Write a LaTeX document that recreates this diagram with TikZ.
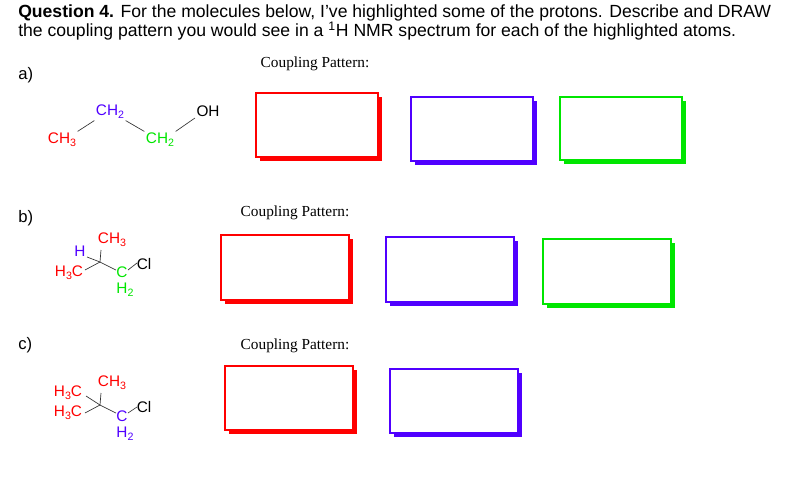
\documentclass[tikz,border=0pt]{standalone}
\usepackage{fontspec}
\setmainfont{Liberation Sans}
\newfontfamily\serif{Liberation Serif}
\definecolor{cred}{RGB}{255,0,0}
\definecolor{cblue}{RGB}{80,0,255}
\definecolor{cgreen}{RGB}{0,230,0}
\newcommand{\sbs}[1]{\raisebox{-0.4ex}{\footnotesize #1}}
\begin{document}
\begin{tikzpicture}[x=0.75pt,y=-0.75pt,
  mol/.style={font=\fontsize{11.5}{13}\selectfont,inner sep=1pt},
  bond/.style={draw=black!80,line width=0.5pt},
  lbl/.style={font=\fontsize{12.5}{14}\selectfont,anchor=west,inner sep=0},
  cp/.style={font=\serif\fontsize{11.5}{13}\selectfont,inner sep=0},
  ansbox/.style={draw=#1,fill=white,line width=0.8pt}]
\useasboundingbox (0,0) rectangle (801,493);
\node[lbl,anchor=north west,font=\fontsize{13.2}{14.5}\selectfont] (title) at (18,4) {\parbox[t]{590pt}{\textbf{Question 4.} For the molecules below, I've highlighted some of the protons. Describe and DRAW\\ the coupling pattern you would see in a \textsuperscript{1}H NMR spectrum for each of the highlighted atoms.}};
\node[lbl] (la) at (18,75) {a)};
\node[lbl] (lb) at (18,218) {b)};
\node[lbl] (lc) at (18,345) {c)};
\node[cp] (cpa) at (315,64) {Coupling Pattern:};
\node[cp] (cpb) at (295,213) {Coupling Pattern:};
\node[cp] (cpc) at (295,346) {Coupling Pattern:};
\newcommand{\abox}[5]{%
 \fill[#5] (#1+4,#2+4) rectangle (#3+4,#4+4);
 \draw[ansbox=#5] (#1,#2) rectangle (#3,#4);}
\abox{256}{93}{378}{157}{cred}
\abox{411}{97}{533}{161}{cblue}
\abox{560}{97}{682}{160}{cgreen}
\abox{221}{235}{349}{300}{cred}
\abox{386}{237}{514}{302}{cblue}
\abox{543}{239}{671}{304}{cgreen}
\abox{225}{366}{353}{430}{cred}
\abox{390}{369}{518}{433}{cblue}
% molecule a
\node[mol,text=cred] (a1) at (62,140) {CH\sbs{3}};
\node[mol,text=cblue] (a2) at (110,112) {CH\sbs{2}};
\node[mol,text=cgreen] (a3) at (160,140) {CH\sbs{2}};
\node[mol] (a4) at (208,111) {OH};
\draw[bond] (a1.north east) -- (a2.south west);
\draw[bond] (a2.south east) -- (a3.north west);
\draw[bond] (a3.north east) -- (a4.south west);
% molecule b
\coordinate (bc) at (100,262);
\node[mol,text=cred] (b1) at (112,240) {CH\sbs{3}};
\node[mol,text=cblue] (b2) at (80,251) {H};
\node[mol,text=cred] (b3) at (69,273) {H\sbs{3}C};
\node[mol,text=cgreen] (b4) at (122,272) {C};
\node[mol,text=cgreen] (b5) at (125,290) {H\sbs{2}};
\node[mol] (b6) at (144,264) {Cl};
\coordinate (bt) at (101,250);
\coordinate (bh) at (87,257);
\coordinate (bl) at (85,270);
\coordinate (br) at (116,270);
\coordinate (bq) at (128,270);
\coordinate (bw) at (137,263);
\draw[bond] (bc) -- (bt);
\draw[bond] (bc) -- (bh);
\draw[bond] (bc) -- (bl);
\draw[bond] (bc) -- (br);
\draw[bond] (bq) -- (bw);
% molecule c
\coordinate (cc) at (100,405);
\node[mol,text=cred] (c1) at (112,383) {CH\sbs{3}};
\node[mol,text=cred] (c2) at (68,393) {H\sbs{3}C};
\node[mol,text=cred] (c3) at (68,413) {H\sbs{3}C};
\node[mol,text=cblue] (c4) at (122,416) {C};
\node[mol,text=cblue] (c5) at (125,434) {H\sbs{2}};
\node[mol] (c6) at (144,407) {Cl};
\coordinate (ct) at (101,393);
\coordinate (cu) at (86,396);
\coordinate (cl) at (85,413);
\coordinate (cr) at (116,413);
\coordinate (cq) at (128,413);
\coordinate (cw) at (137,407);
\draw[bond] (cc) -- (ct);
\draw[bond] (cc) -- (cu);
\draw[bond] (cc) -- (cl);
\draw[bond] (cc) -- (cr);
\draw[bond] (cq) -- (cw);
\end{tikzpicture}
\end{document}
